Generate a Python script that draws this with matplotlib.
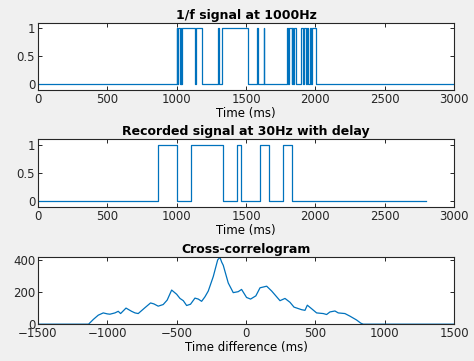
import numpy as np
import matplotlib
matplotlib.use("Agg")
import matplotlib.pyplot as plt

# ── Data ─────────────────────────────────────────────────────────────────────
# 1/f signal at 1000 Hz: on/off edges (ms)
sig1_rise = [1000, 1012, 1030, 1041, 1138, 1298, 1329, 1579, 1628,
             1795, 1810, 1835, 1845, 1900, 1920, 1940, 1958, 1975]
sig1_fall = [1005, 1022, 1034, 1133, 1180, 1302, 1515, 1583, 1632,
             1805, 1830, 1840, 1858, 1912, 1935, 1950, 1968, 2005]
sig1_end = 3000

# recorded signal at 30 Hz with delay: on/off edges (ms)
sig2_rise = [866, 1100, 1433, 1600, 1766]
sig2_fall = [1000, 1333, 1466, 1666, 1833]
sig2_end = 2800

# cross-correlogram
cc_lag = [-1500, -1135, -1100, -1065, -1029, -1000, -981, -945, -921, -904,
          -865, -825, -800, -777, -729, -688, -664, -633, -597, -568,
          -536, -500, -476, -452, -428, -400, -368, -344, -320, -296,
          -272, -236, -204, -188, -175, -164, -128, -92, -56, -32,
          4, 33, 71, 101, 149, 185, 215, 245, 281, 317,
          346, 401, 425, 442, 473, 509, 557, 581, 605, 641,
          665, 713, 749, 797, 828, 845, 1500]
cc_val = [0, 0, 30, 56, 70, 64, 62, 70, 80, 66,
          100, 80, 70, 66, 102, 132, 126, 112, 122, 150,
          212, 186, 160, 146, 116, 124, 162, 156, 142, 170,
          206, 296, 400, 415, 385, 366, 256, 196, 202, 216,
          166, 156, 176, 226, 236, 206, 176, 146, 160, 136,
          106, 90, 86, 118, 96, 70, 66, 60, 76, 82,
          70, 66, 50, 26, 6, 0, 0]


def step_path(rise, fall, end):
    t = [0]
    y = [0]
    for r, f in zip(rise, fall):
        t += [r, r, f, f]
        y += [0, 1, 1, 0]
    t.append(end)
    y.append(0)
    return t, y


# ── Style (MATLAB-like) ──────────────────────────────────────────────────────
plt.rcParams["font.family"] = "DejaVu Sans"
plt.rcParams["font.size"] = 8.5
line_col = "#0072BD"
axis_col = "#262626"

fig = plt.figure(figsize=(4.74, 3.61), dpi=100, facecolor="#F0F0F0")
positions = [
    [0.080, 0.751, 0.878, 0.186],
    [0.080, 0.427, 0.878, 0.188],
    [0.080, 0.102, 0.878, 0.185],
]
axes = [fig.add_axes(p) for p in positions]

for ax in axes:
    ax.set_facecolor("white")
    for s in ax.spines.values():
        s.set_color(axis_col)
        s.set_linewidth(0.8)
    ax.tick_params(direction="in", top=True, right=True, length=3,
                   width=0.7, colors=axis_col, labelsize=8.5, pad=2)

# ── 1. 1/f signal ────────────────────────────────────────────────────────────
t1, y1 = step_path(sig1_rise, sig1_fall, sig1_end)
ax = axes[0]
ax.plot(t1, y1, color=line_col, linewidth=0.9)
ax.set_xlim(0, 3000)
ax.set_ylim(-0.1, 1.1)
ax.set_xticks(range(0, 3001, 500))
ax.set_yticks([0, 0.5, 1])
ax.set_yticklabels(["0", "0.5", "1"])
ax.set_title("1/f signal at 1000Hz", fontweight="bold", fontsize=9, pad=3)
ax.set_xlabel("Time (ms)", labelpad=1)

# ── 2. recorded signal ───────────────────────────────────────────────────────
t2, y2 = step_path(sig2_rise, sig2_fall, sig2_end)
ax = axes[1]
ax.plot(t2, y2, color=line_col, linewidth=0.9)
ax.set_xlim(0, 3000)
ax.set_ylim(-0.1, 1.1)
ax.set_xticks(range(0, 3001, 500))
ax.set_yticks([0, 0.5, 1])
ax.set_yticklabels(["0", "0.5", "1"])
ax.set_title("Recorded signal at 30Hz with delay", fontweight="bold",
             fontsize=9, pad=3)
ax.set_xlabel("Time (ms)", labelpad=1)

# ── 3. cross-correlogram ─────────────────────────────────────────────────────
ax = axes[2]
ax.plot(cc_lag, cc_val, color=line_col, linewidth=0.9)
ax.set_xlim(-1500, 1500)
ax.set_ylim(0, max(cc_val))
ax.set_xticks(range(-1500, 1501, 500))
ax.set_yticks([0, 200, 400])
ax.set_title("Cross-correlogram", fontweight="bold", fontsize=9, pad=3)
ax.set_xlabel("Time difference (ms)", labelpad=1)

fig.savefig("out.png", dpi=100, facecolor=fig.get_facecolor())
